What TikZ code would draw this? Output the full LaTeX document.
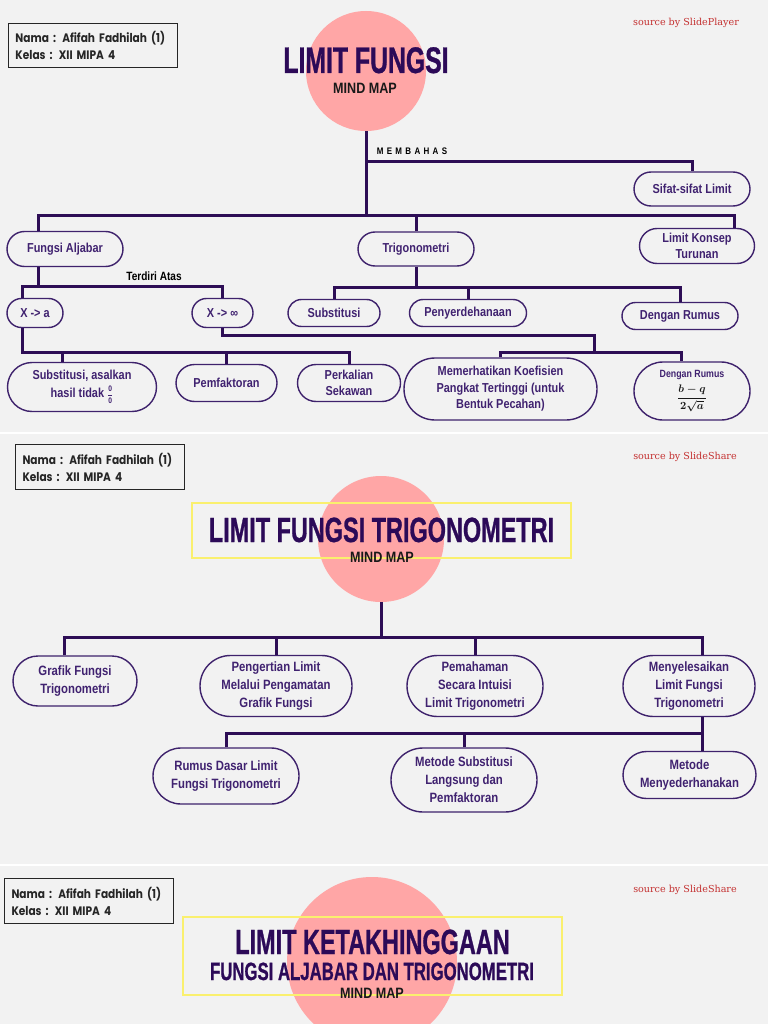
\documentclass[tikz,border=0pt]{standalone}
\usepackage{amsmath}
\usepackage{bm}
\usepackage{fontspec}
\usetikzlibrary{shapes.misc}
\setmainfont{Liberation Sans}
\newfontfamily\osw{Liberation Sans}[FakeStretch=0.84]
\newfontfamily\oswt{Liberation Sans}[FakeStretch=0.67,BoldFeatures={FakeBold=0.8}]
\newfontfamily\oswsp{Liberation Sans}[FakeStretch=0.84,LetterSpace=35]
\newfontfamily\namefnt{Poppins}[FakeStretch=0.86]
\newfontfamily\srcfnt{DejaVu Serif}
\definecolor{bg}{RGB}{242,242,242}
\definecolor{pinkc}{RGB}{255,166,166}
\definecolor{titlec}{RGB}{44,10,88}
\definecolor{linec}{RGB}{46,14,86}
\definecolor{nodeb}{RGB}{62,34,108}
\definecolor{nodet}{RGB}{64,34,112}
\definecolor{srcc}{RGB}{196,48,48}
\definecolor{yel}{RGB}{250,240,110}
\tikzset{
  conn/.style={draw=linec, line width=3pt},
  mm/.style={rounded rectangle, draw=nodeb, line width=1.4pt, fill=bg, text=nodet,
    font=\osw\bfseries\fontsize{13}{16.5}\selectfont, align=center, inner sep=0pt},
  mmb/.style={mm, font=\osw\bfseries\fontsize{13.5}{18}\selectfont},
  sz/.style 2 args={minimum width=#1pt, minimum height=#2pt},
  namebox/.style={draw=black!85, line width=1pt, anchor=north west, align=left,
    font=\namefnt\bfseries\fontsize{12.3}{17}\selectfont, text=black!85,
    inner xsep=7pt, inner ysep=0pt, text width=155pt, minimum height=44pt},
  src/.style={font=\srcfnt\fontsize{9.6}{11}\selectfont, text=srcc, anchor=base},
  ttl/.style={font=\oswt\bfseries\fontsize{36}{40}\selectfont, text=titlec, anchor=base, inner sep=0pt},
  mindmap/.style={font=\osw\bfseries\fontsize{15}{18}\selectfont, text=black!90, anchor=base, inner sep=0pt},
  lbl/.style={font=\osw\bfseries\fontsize{12}{14}\selectfont, text=black, anchor=base, inner sep=0pt},
  yrect/.style={draw=yel, line width=1.2pt},
  sep/.style={draw=white, line width=2pt}
}
\newcommand{\zerofrac}{{\fontsize{8}{8}\selectfont$\genfrac{}{}{0.5pt}{0}{\text{0}}{\text{0}}$}}
\begin{document}
\begin{tikzpicture}[x=1pt,y=-1pt]
\useasboundingbox (0,0) rectangle (768,1024);
\clip (0,0) rectangle (768,1024);
\fill[bg] (0,0) rectangle (768,1024);
\draw[sep] (0,433) -- (768,433);
\draw[sep] (0,865) -- (768,865);

% ---------------- Slide 1 ----------------
\node[namebox] (nb1) at (8,23) {Nama : Afifah Fadhilah (1)\\Kelas : XII MIPA 4};
\node[src] (src1) at (686,26) {source by SlidePlayer};
\node[circle, fill=pinkc, minimum size=120pt, inner sep=0pt] (c1) at (366,71) {};
\node[ttl, font=\oswt\bfseries\fontsize{37}{40}\selectfont] (t1) at (366,73) {LIMIT FUNGSI};
\node[mindmap] (mm1) at (365,94) {MIND MAP};
\node[lbl, font=\oswsp\bfseries\fontsize{9.5}{12}\selectfont] (mb) at (412,155) {MEMBAHAS};

\node[mm, sz={116}{34}] (sf) at (692,189) {Sifat-sifat Limit};
\node[mm, sz={116}{35}] (fa) at (65,249) {Fungsi Aljabar};
\node[mm, sz={116}{34}] (tr) at (416,249) {Trigonometri};
\node[mm, sz={115}{35}] (lk) at (697,246) {Limit Konsep\\Turunan};

\node[lbl] (ta) at (154,280) {Terdiri Atas};
\node[mm, sz={56}{29}] (xa) at (35,313) {X -> a};
\node[mm, sz={61}{29}] (xi) at (222.5,313) {X -> ∞};
\node[mm, sz={92}{27}] (st) at (334,313) {Substitusi};
\node[mm, sz={117}{27}] (py) at (468,313) {Penyerdehanaan};
\node[mm, sz={116}{27}] (dr1) at (680,316) {Dengan Rumus};

\node[mm, sz={149}{49}] (sb) at (82,387) {Substitusi, asalkan\\[1pt]hasil tidak \zerofrac};
\node[mm, sz={101}{37}] (pf) at (226.5,383) {Pemfaktoran};
\node[mm, sz={103}{37}] (pk) at (349,383) {Perkalian\\Sekawan};
\node[mm, sz={193}{62}] (mk) at (500.5,389) {Memerhatikan Koefisien\\Pangkat Tertinggi (untuk\\Bentuk Pecahan)};
\node[mm, sz={116}{58}] (dr2) at (692,391) {{\fontsize{10.5}{12}\selectfont Dengan Rumus}\\[4pt]{\color{black!90}\fontsize{11}{12}\selectfont$\displaystyle\bm{\frac{b-q}{2\sqrt{a}}}$}};

\coordinate (a0) at (366,162);
\coordinate (a1) at (366,216);
\coordinate (a2) at (38,216);
\coordinate (a3) at (734,216);
\draw[conn] (c1.south) -- (a1);
\draw[conn] (a0) -| (sf.north);
\draw[conn] (a2 |- fa.north) -- (a2) -- (a3) -- (a3 |- lk.north);
\draw[conn] (tr.north) -- (tr.north |- a1);

\coordinate (b0) at (38,286);
\coordinate (b1) at (22,286);
\draw[conn] (a2 |- fa.south) -- (b0);
\draw[conn] (b1 |- xa.north) -- (b1) -| (xi.north);

\coordinate (d0) at (22,352);
\coordinate (d1) at (62,352);
\draw[conn] (b1 |- xa.south) -- (d0) -| (pk.north);
\draw[conn] (d1) -- (d1 |- sb.north);
\draw[conn] (pf.north) -- (pf.north |- d0);

\coordinate (e1) at (594,335);
\coordinate (e2) at (594,352);
\coordinate (e3) at (681,352);
\draw[conn] (xi.south) -- (xi.south |- e1) -- (e1) -- (e2);
\draw[conn] (mk.north) -- (mk.north |- e2) -- (e3) -- (e3 |- dr2.north);

\coordinate (g0) at (681,287);
\draw[conn] (tr.south) -- (tr.south |- g0);
\draw[conn] (st.north) -- (st.north |- g0) -| (dr1.north);
\draw[conn] (py.north) -- (py.north |- g0);

% ---------------- Slide 2 ----------------
\node[namebox, minimum height=45pt] (nb2) at (15,444) {Nama : Afifah Fadhilah (1)\\Kelas : XII MIPA 4};
\node[src] (src2) at (685,459) {source by SlideShare};
\node[circle, fill=pinkc, minimum size=126pt, inner sep=0pt] (c2) at (381,539) {};
\node[ttl, font=\oswt\bfseries\fontsize{35}{40}\selectfont] (t2) at (381.5,542) {LIMIT FUNGSI TRIGONOMETRI};
\draw[yrect] (192,503) rectangle (571,558);
\node[mindmap] (mm2) at (382,562) {MIND MAP};

\node[mmb, sz={124}{50}] (gf) at (75,681) {Grafik Fungsi\\Trigonometri};
\node[mmb, sz={152}{61}] (pe) at (276,686) {Pengertian Limit\\Melalui Pengamatan\\Grafik Fungsi};
\node[mmb, sz={136}{61}] (pm) at (475,686) {Pemahaman\\Secara Intuisi\\Limit Trigonometri};
\node[mmb, sz={132}{61}] (my) at (689,686) {Menyelesaikan\\Limit Fungsi\\Trigonometri};
\node[mmb, sz={146}{56}] (rd) at (226,776) {Rumus Dasar Limit\\Fungsi Trigonometri};
\node[mmb, sz={146}{64}] (ms) at (464,780) {Metode Substitusi\\Langsung dan\\Pemfaktoran};
\node[mmb, sz={133}{47}] (mn) at (689.5,775) {Metode\\Menyederhanakan};

\coordinate (p0) at (381,637);
\coordinate (p1) at (64,637);
\coordinate (p2) at (702,637);
\draw[conn] (c2.south) -- (p0);
\draw[conn] (p1 |- gf.north) -- (p1) -- (p2) -- (p2 |- my.north);
\draw[conn] (pe.north) -- (pe.north |- p0);
\draw[conn] (pm.north) -- (pm.north |- p0);
\coordinate (q0) at (702,733);
\draw[conn] (p2 |- my.south) -- (p2 |- mn.north);
\draw[conn] (rd.north) -- (rd.north |- q0) -- (q0);
\draw[conn] (ms.north) -- (ms.north |- q0);

% ---------------- Slide 3 ----------------
\node[namebox, minimum height=45pt] (nb3) at (4,878) {Nama : Afifah Fadhilah (1)\\Kelas : XII MIPA 4};
\node[src] (src3) at (685,892) {source by SlideShare};
\node[circle, fill=pinkc, minimum size=170pt, inner sep=0pt] (c3) at (372,962) {};
\node[ttl, font=\oswt\bfseries\fontsize{35}{40}\selectfont] (t3) at (372.5,954) {LIMIT KETAKHINGGAAN};
\node[ttl, font=\oswt\bfseries\fontsize{25}{28}\selectfont] (t3b) at (372,980) {FUNGSI ALJABAR DAN TRIGONOMETRI};
\draw[yrect] (183,917) rectangle (562,995);
\node[mindmap] (mm3) at (372,998) {MIND MAP};
\end{tikzpicture}
\end{document}
